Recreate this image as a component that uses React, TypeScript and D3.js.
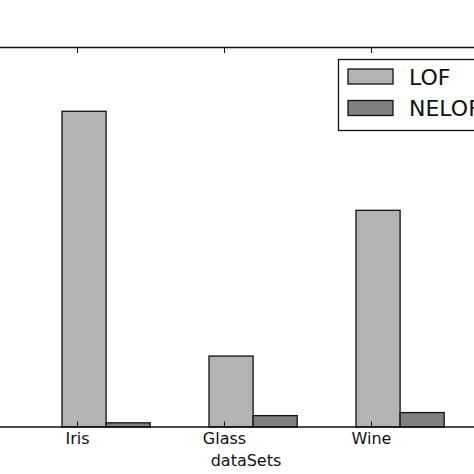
import React from "react";
import * as d3 from "d3";

const categories = ["Iris", "Glass", "Wine"];
const seriesNames = ["LOF", "NELOF"];
const lofValues = [0.832, 0.187, 0.571];
const nelofValues = [0.011, 0.030, 0.038];
const xLabel = "dataSets";

const W = 474;
const H = 474;
const plotTop = 47.5;
const plotBottom = 427;
const barWidth = 0.3;
const tickOffset = 0.1;
const colors = ["#b3b3b3", "#808080"];

export default function App() {
  const x = d3.scaleLinear().domain([0, 3]).range([62, 62 + 441]);
  const y = d3.scaleLinear().domain([0, 1]).range([plotBottom, plotTop]);
  const series = [lofValues, nelofValues];
  const font = "'DejaVu Sans', sans-serif";
  return (
    <svg
      width={W}
      height={H}
      style={{ position: "fixed", left: 0, top: 0, background: "#fff" }}
    >
      <rect x={0} y={0} width={W} height={H} fill="#fff" />
      {series.map((vals, s) =>
        vals.map((v, i) => (
          <rect
            key={`${s}-${i}`}
            x={x(i + s * barWidth)}
            y={y(v)}
            width={x(barWidth) - x(0)}
            height={y(0) - y(v)}
            fill={colors[s]}
            stroke="#111"
            strokeWidth={1.3}
          />
        ))
      )}
      {/* axes lines */}
      <line x1={-5} x2={W + 5} y1={plotTop} y2={plotTop} stroke="#111" strokeWidth={1.3} />
      <line x1={-5} x2={W + 5} y1={plotBottom} y2={plotBottom} stroke="#111" strokeWidth={1.3} />
      {categories.map((c, i) => {
        const tx = Math.round(x(i + tickOffset)) + 0.5;
        return (
          <g key={c}>
            <line x1={tx} x2={tx} y1={plotBottom} y2={plotBottom - 5.5} stroke="#111" strokeWidth={1} />
            <line x1={tx} x2={tx} y1={plotTop} y2={plotTop + 5.5} stroke="#111" strokeWidth={1} />
            <text
              x={tx}
              y={444}
              textAnchor="middle"
              fontFamily={font}
              fontSize={16}
              fill="#111"
            >
              {c}
            </text>
          </g>
        );
      })}
      <text x={246} y={466} textAnchor="middle" fontFamily={font} fontSize={16} fill="#111">
        {xLabel}
      </text>
      {/* legend */}
      <rect x={338.5} y={59.5} width={160} height={71} fill="#fff" stroke="#111" strokeWidth={1.3} />
      {seriesNames.map((n, s) => (
        <g key={n}>
          <rect
            x={348}
            y={69 + s * 31.5}
            width={45}
            height={15}
            fill={colors[s]}
            stroke="#111"
            strokeWidth={1.3}
          />
          <text x={409} y={84.5 + s * 31.5} fontFamily={font} fontSize={22} fill="#111">
            {n}
          </text>
        </g>
      ))}
    </svg>
  );
}
